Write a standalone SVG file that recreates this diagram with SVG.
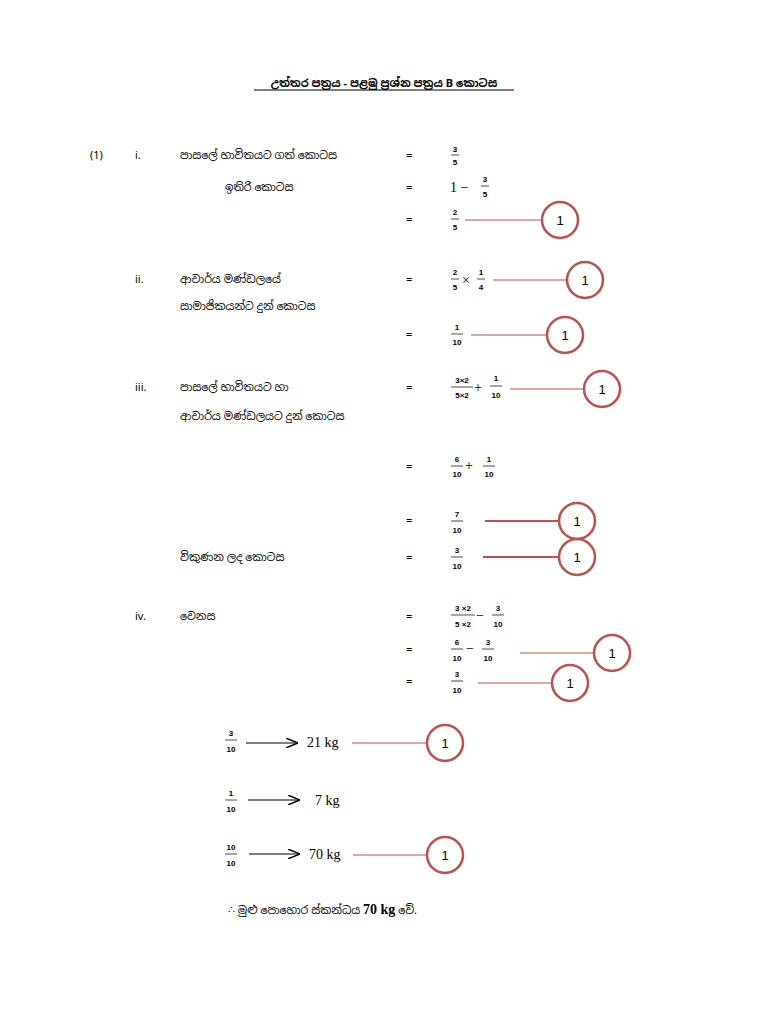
<svg xmlns="http://www.w3.org/2000/svg" width="768" height="1024" viewBox="0 0 768 1024">
<style>
.t{font-family:"Noto Sans","Noto Sans Sinhala","Liberation Sans",sans-serif;font-size:11px;fill:#000}
.m{font-family:"Liberation Serif",serif;font-size:14px;fill:#000}
.f{font-family:"Liberation Sans",sans-serif;font-size:8px;font-weight:bold;fill:#000;text-anchor:middle}
.r{stroke:#c0504d;stroke-width:1.2}
.rt{stroke:#c0504d;stroke-width:2}
.c{fill:none;stroke:#c0504d;stroke-width:2.5}
.n{font-family:"Liberation Sans",sans-serif;font-size:13px;fill:#000;text-anchor:middle}
.fl{stroke:#000;stroke-width:0.7}
</style>
<defs><marker id="a" markerWidth="10" markerHeight="8" refX="9" refY="4" orient="auto"><path d="M0,0 L10,4 L0,8" fill="none" stroke="#000" stroke-width="1.2"/></marker></defs>
<rect width="768" height="1024" fill="#fff"/>
<text x="384" y="87" class="t" font-weight="bold" text-anchor="middle">උත්තර පත්‍රය - පළමු ප්‍රශ්න පත්‍රය B කොටස</text>
<line x1="254" y1="90" x2="514" y2="90" stroke="#000" stroke-width="1"/>
<text x="90" y="159" class="t">(1)</text>
<text x="135" y="159" class="t">i.</text>
<text x="180" y="159" class="t">පාසලේ භාවිතයට ගත් කොටස</text>
<text x="406" y="159" class="t">=</text>
<text x="455" y="152" class="f">3</text><line x1="451" y1="155" x2="459" y2="155" class="fl"/><text x="455" y="165" class="f">5</text>
<text x="225" y="191" class="t">ඉතිරි කොටස</text>
<text x="406" y="191" class="t">=</text>
<text x="450" y="192" class="m">1 −</text>
<text x="485" y="182" class="f">3</text><line x1="481" y1="186" x2="489" y2="186" class="fl"/><text x="485" y="197" class="f">5</text>
<text x="406" y="223" class="t">=</text>
<text x="455" y="215" class="f">2</text><line x1="451" y1="219" x2="459" y2="219" class="fl"/><text x="455" y="230" class="f">5</text>
<line x1="465" y1="220" x2="541" y2="220" class="r"/><circle cx="560" cy="220" r="18" class="c"/><text x="560" y="225" class="n">1</text>
<text x="135" y="283" class="t">ii.</text>
<text x="180" y="283" class="t">ආචාර්ය මණ්ඩලයේ</text>
<text x="406" y="283" class="t">=</text>
<text x="455" y="275" class="f">2</text><line x1="451" y1="279" x2="459" y2="279" class="fl"/><text x="455" y="290" class="f">5</text>
<text x="462" y="285" class="m">×</text>
<text x="481" y="275" class="f">1</text><line x1="477" y1="279" x2="485" y2="279" class="fl"/><text x="481" y="290" class="f">4</text>
<line x1="493" y1="280" x2="566" y2="280" class="r"/><circle cx="585" cy="280" r="18" class="c"/><text x="585" y="285" class="n">1</text>
<text x="180" y="310" class="t">සාමාජිකයන්ට දුන් කොටස</text>
<text x="406" y="338" class="t">=</text>
<text x="457" y="330" class="f">1</text><line x1="451" y1="334" x2="463" y2="334" class="fl"/><text x="457" y="345" class="f">10</text>
<line x1="471" y1="335" x2="546" y2="335" class="r"/><circle cx="565" cy="335" r="18" class="c"/><text x="565" y="340" class="n">1</text>
<text x="135" y="391" class="t">iii.</text>
<text x="180" y="391" class="t">පාසලේ භාවිතයට හා</text>
<text x="406" y="391" class="t">=</text>
<text x="462" y="383" class="f">3×2</text><line x1="451" y1="387" x2="473" y2="387" class="fl"/><text x="462" y="398" class="f">5×2</text>
<text x="474" y="392" class="m">+</text>
<text x="496" y="381" class="f">1</text><line x1="490" y1="386" x2="502" y2="386" class="fl"/><text x="496" y="398" class="f">10</text>
<line x1="510" y1="389" x2="583" y2="389" class="r"/><circle cx="602" cy="389" r="18" class="c"/><text x="602" y="394" class="n">1</text>
<text x="180" y="420" class="t">ආචාර්ය මණ්ඩලයට දුන් කොටස</text>
<text x="406" y="470" class="t">=</text>
<text x="457" y="462" class="f">6</text><line x1="451" y1="466" x2="463" y2="466" class="fl"/><text x="457" y="477" class="f">10</text>
<text x="465" y="470" class="m">+</text>
<text x="489" y="462" class="f">1</text><line x1="483" y1="466" x2="495" y2="466" class="fl"/><text x="489" y="477" class="f">10</text>
<text x="406" y="524" class="t">=</text>
<text x="457" y="517" class="f">7</text><line x1="451" y1="521" x2="463" y2="521" class="fl"/><text x="457" y="533" class="f">10</text>
<line x1="485" y1="521" x2="559" y2="521" class="rt"/><circle cx="577" cy="521" r="18" class="c"/><text x="577" y="526" class="n">1</text>
<text x="180" y="561" class="t">විකුණන ලද කොටස</text>
<text x="406" y="561" class="t">=</text>
<text x="457" y="553" class="f">3</text><line x1="451" y1="557" x2="463" y2="557" class="fl"/><text x="457" y="569" class="f">10</text>
<line x1="483" y1="557" x2="559" y2="557" class="rt"/><circle cx="577" cy="557" r="18" class="c"/><text x="577" y="562" class="n">1</text>
<text x="135" y="620" class="t">iv.</text>
<text x="180" y="620" class="t">වෙනස</text>
<text x="406" y="620" class="t">=</text>
<text x="463" y="611" class="f">3 ×2</text><line x1="451" y1="615" x2="475" y2="615" class="fl"/><text x="463" y="627" class="f">5 ×2</text>
<text x="476" y="620" class="m">−</text>
<text x="498" y="611" class="f">3</text><line x1="492" y1="615" x2="504" y2="615" class="fl"/><text x="498" y="627" class="f">10</text>
<text x="406" y="653" class="t">=</text>
<text x="457" y="645" class="f">6</text><line x1="451" y1="649" x2="463" y2="649" class="fl"/><text x="457" y="661" class="f">10</text>
<text x="466" y="653" class="m">−</text>
<text x="488" y="645" class="f">3</text><line x1="482" y1="649" x2="494" y2="649" class="fl"/><text x="488" y="661" class="f">10</text>
<line x1="520" y1="653" x2="593" y2="653" class="r"/><circle cx="612" cy="653" r="18" class="c"/><text x="612" y="658" class="n">1</text>
<text x="406" y="685" class="t">=</text>
<text x="457" y="677" class="f">3</text><line x1="451" y1="681" x2="463" y2="681" class="fl"/><text x="457" y="693" class="f">10</text>
<line x1="478" y1="683" x2="551" y2="683" class="r"/><circle cx="570" cy="683" r="18" class="c"/><text x="570" y="688" class="n">1</text>
<text x="231" y="736" class="f">3</text><line x1="225" y1="740" x2="237" y2="740" class="fl"/><text x="231" y="752" class="f">10</text>
<line x1="246" y1="743" x2="297" y2="743" stroke="#000" stroke-width="1.2" marker-end="url(#a)"/>
<text x="307" y="747" class="m">21 kg</text>
<line x1="352" y1="743" x2="426" y2="743" class="r"/><circle cx="445" cy="743" r="18" class="c"/><text x="445" y="748" class="n">1</text>
<text x="231" y="796" class="f">1</text><line x1="225" y1="800" x2="237" y2="800" class="fl"/><text x="231" y="812" class="f">10</text>
<line x1="248" y1="800" x2="299" y2="800" stroke="#000" stroke-width="1.2" marker-end="url(#a)"/>
<text x="315" y="805" class="m">7 kg</text>
<text x="231" y="850" class="f">10</text><line x1="225" y1="854" x2="237" y2="854" class="fl"/><text x="231" y="866" class="f">10</text>
<line x1="249" y1="854" x2="299" y2="854" stroke="#000" stroke-width="1.2" marker-end="url(#a)"/>
<text x="309" y="859" class="m">70 kg</text>
<line x1="353" y1="855" x2="426" y2="855" class="r"/><circle cx="445" cy="855" r="18" class="c"/><text x="445" y="860" class="n">1</text>
<text x="228" y="914" class="t">∴ මුළු පොහොර ස්කන්ධය <tspan class="m" font-weight="bold">70 kg</tspan> වේ.</text>
</svg>
